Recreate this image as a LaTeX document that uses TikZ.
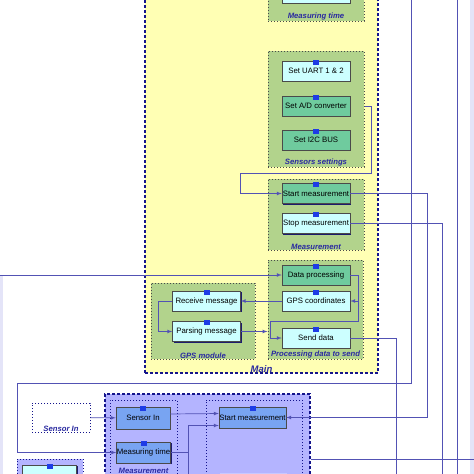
\documentclass[tikz,border=0pt]{standalone}
\usepackage{fontspec}
\setmainfont{Liberation Sans}
\usetikzlibrary{calc,shadows}
\definecolor{mainfill}{HTML}{FFFFB4}
\definecolor{mainline}{HTML}{14148C}
\definecolor{grpfill}{HTML}{B2D38C}
\definecolor{grpline}{HTML}{4A4A4A}
\definecolor{greenc}{HTML}{6FCB9E}
\definecolor{cyanc}{HTML}{CCFFFF}
\definecolor{bluec}{HTML}{78A4F2}
\definecolor{lightbluec}{HTML}{C8C8FF}
\definecolor{lavfill}{HTML}{B4B4FF}
\definecolor{outerc}{HTML}{E4E4F8}
\definecolor{wirec}{HTML}{5252B4}
\definecolor{labelc}{HTML}{2A2AA0}
\definecolor{shadowc}{HTML}{1C1C6E}
\definecolor{iconc}{HTML}{1E3CE6}

\begin{document}
\begin{tikzpicture}[x=1pt,y=-1pt,>=latex,
  wire/.style={draw=wirec, line width=0.7pt},
  mainbox/.style={draw=mainline, fill=mainfill, dashed, dash pattern=on 3pt off 2pt, line width=1.6pt, inner sep=0pt},
  lavbox/.style={draw=mainline, fill=lavfill, dashed, dash pattern=on 3pt off 2pt, line width=1.6pt, inner sep=0pt},
  grp/.style={draw=grpline, fill=grpfill, dotted, line width=1pt, inner sep=0pt},
  lgrp/.style={draw=mainline, fill=lavfill, dotted, line width=1pt, inner sep=0pt},
  srcbox/.style={draw=mainline, fill=white, dotted, line width=1pt, inner sep=0pt},
  blk/.style={draw=grpline, line width=0.5pt, minimum width=68, minimum height=20, inner sep=0pt,
    font=\fontsize{7.8}{9}\selectfont,
    drop shadow={shadow xshift=1.3pt, shadow yshift=-1.3pt, fill=shadowc, opacity=1}},
  glabel/.style={text=labelc, inner sep=1pt, font=\fontsize{7.7}{9}\selectfont\bfseries\itshape}
]
\useasboundingbox (0,0) rectangle (474,474);
\clip (0,0) rectangle (474,474);
\fill[outerc] (0,276) rectangle (3,474);
\fill[outerc] (470,0) rectangle (474,474);

\node[mainbox, minimum width=233, minimum height=391] (main) at (261.5,177.5) {};
\node[glabel, font=\fontsize{9.5}{11}\selectfont\bfseries\itshape, above] at (main.south) {Main};

\node[grp, minimum width=96, minimum height=61] (mtgrp) at (316,-9.5) {};
\node[grp, minimum width=96, minimum height=116] (sset) at (316,109) {};
\node[grp, minimum width=96, minimum height=71] (meas) at (316,214.5) {};
\node[grp, minimum width=95, minimum height=99] (proc) at (315.5,309.5) {};
\node[grp, minimum width=104, minimum height=76] (gpsm) at (203,321) {};
\node[glabel, above] at (mtgrp.south) {Measuring time};
\node[glabel, above] at (sset.south) {Sensors settings};
\node[glabel, above] at (meas.south) {Measurement};
\node[glabel, above] at (proc.south) {Processing data to send};
\node[glabel, above] at (gpsm.south) {GPS module};

\node[blk, fill=cyanc] (mtime) at (316,-7) {};
\node[blk, fill=cyanc] (uart) at (316,71) {Set UART 1 \& 2};
\node[blk, fill=greenc] (adc) at (316,106) {Set A/D converter};
\node[blk, fill=greenc] (i2c) at (316,140) {Set I2C BUS};
\node[blk, fill=greenc] (start) at (316,193.5) {Start measurement};
\node[blk, fill=cyanc] (stop) at (316,223.5) {Stop measurement};
\node[blk, fill=greenc] (dproc) at (316,275) {Data processing};
\node[blk, fill=cyanc] (gpsc) at (316,301) {GPS coordinates};
\node[blk, fill=cyanc] (send) at (316,338) {Send data};
\node[blk, fill=cyanc] (recv) at (206.5,301) {Receive message};
\node[blk, fill=cyanc] (parse) at (206.5,331.5) {Parsing message};

\node[lavbox, minimum width=205, minimum height=120] (bbox) at (207.5,454) {};
\node[lgrp, minimum width=67, minimum height=100] (bmeas) at (143.5,450) {};
\node[lgrp, minimum width=96, minimum height=100] (bctl) at (254,450) {};
\node[glabel] at (143.5,471) {Measurement};
\node[srcbox, minimum width=58, minimum height=29] (sinsrc) at (61,417.5) {};
\node[glabel, above] at (sinsrc.south) {Sensor In};
\node[lgrp, minimum width=66, minimum height=40] (lbox) at (50,479) {};
\node[blk, fill=cyanc, minimum width=54] (lnode) at (49.5,475) {};
\node[blk, fill=bluec, minimum width=54, minimum height=22] (bsin) at (143,418) {Sensor In};
\node[blk, fill=bluec, minimum width=54, minimum height=21] (bmt) at (143.5,452.5) {Measuring time};
\node[blk, fill=bluec, minimum width=67, minimum height=21] (bstart) at (252.5,417.5) {Start measurement};
\node[draw=lightbluec, fill=lightbluec, minimum width=66, minimum height=20] (bnext) at (253,483) {};

\coordinate (left) at (-5,275);
\coordinate (topa) at (411,-5);
\coordinate (topb) at (457,-5);
\coordinate (bota) at (457,480);
\coordinate (botb) at (442,480);
\coordinate (botc) at (396,480);
\coordinate (botd) at (188,480);
\coordinate (rgt) at (480,459);
\coordinate (dpj) at (358,301);

\draw[wire,->] (sset.east |- adc) -- ++(7,0) |- (240,173) |- (start);
\draw[wire,->] (start) -- (427,193.5) |- (bstart);
\draw[wire] (stop) -| (botb);
\draw[wire] (send) -| (botc);
\draw[wire,->] (left) -- (dproc);
\draw[wire,->] (dproc) -- (358,275) |- (270,321) |- (send);
\draw[wire,->] (dpj) -- (gpsc);
\draw[wire,->] (gpsc) -- (recv);
\draw[wire,->] (recv) -- (158,301) |- (parse);
\draw[wire,->] (parse) -- (parse -| proc.west);
\draw[wire,->] (topa) |- (17,383) |- (bmt);
\draw[wire] (topb) -- (bota);
\draw[wire,->] (sinsrc) -- (bsin);
\draw[wire,->] ($(bsin.east)+(0,-4)$) -- ($(bstart.west)+(0,-4)$);
\draw[wire] (bmt) -- (188,452.5);
\draw[wire,->] (botd) |- ($(bstart.west)+(0,8)$);
\draw[wire] (bbox.east |- rgt) -- (rgt);

\foreach \n in {uart,adc,i2c,start,stop,dproc,gpsc,send,recv,parse,bsin,bmt,bstart,lnode}
{	\fill[iconc] ($(\n.north)+(-3,-1)$) rectangle +(6,5);
}
\end{tikzpicture}
\end{document}
